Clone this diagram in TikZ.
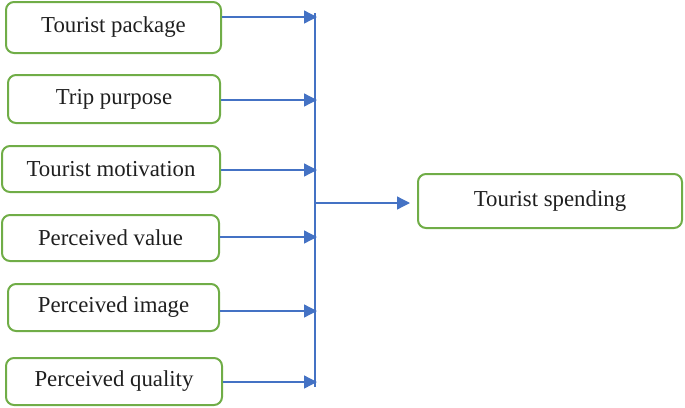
\documentclass[tikz,border=0pt]{standalone}
\usepackage{fontspec}
\setmainfont{Liberation Serif}
\usetikzlibrary{arrows.meta}

\definecolor{boxgreen}{HTML}{70AD47}
\definecolor{lineblue}{HTML}{4472C4}

\begin{document}
\begin{tikzpicture}[x=1pt, y=-1pt,
    factor/.style={draw=boxgreen, line width=2pt, rounded corners=8pt, inner sep=0pt,
      font=\fontsize{22.8}{27}\selectfont, text=black!88},
    link/.style={lineblue, line width=1.3pt, -{Triangle[length=13pt, width=13pt]}}]
    \useasboundingbox (0,0) rectangle (685,407);

    % Draw factor boxes
    \node[factor, minimum width=215pt, minimum height=51pt] (pack) at (113.5,27.5) {Tourist package};
    \node[factor, minimum width=212pt, minimum height=48pt] (trip) at (114,99) {Trip purpose};
    \node[factor, minimum width=218pt, minimum height=46pt] (mot) at (111,169) {Tourist motivation};
    \node[factor, minimum width=217pt, minimum height=46pt] (val) at (110.5,238) {Perceived value};
    \node[factor, minimum width=211pt, minimum height=47pt] (img) at (113.5,307.5) {Perceived image};
    \node[factor, minimum width=216pt, minimum height=47pt] (qual) at (114,381.5) {Perceived quality};
    \node[factor, minimum width=264pt, minimum height=54pt] (spend) at (550,201) {Tourist spending};

    % Draw vertical bus line
    \coordinate (top) at (315,13);
    \coordinate (bot) at (315,387);
    \draw[lineblue, line width=1.3pt] (top) -- (bot);

    % Draw arrows into the bus
    \foreach \f/\y in {pack/17, trip/100, mot/170, val/237, img/311, qual/382} {
      \coordinate (in-\f) at (317,\y);
      \draw[link] (\f.east |- in-\f) -- (in-\f);
    }

    % Draw arrow to the outcome
    \coordinate (out) at (315,203);
    \draw[link, shorten >=7pt] (out) -- (spend.west |- out);

  \end{tikzpicture}
\end{document}
